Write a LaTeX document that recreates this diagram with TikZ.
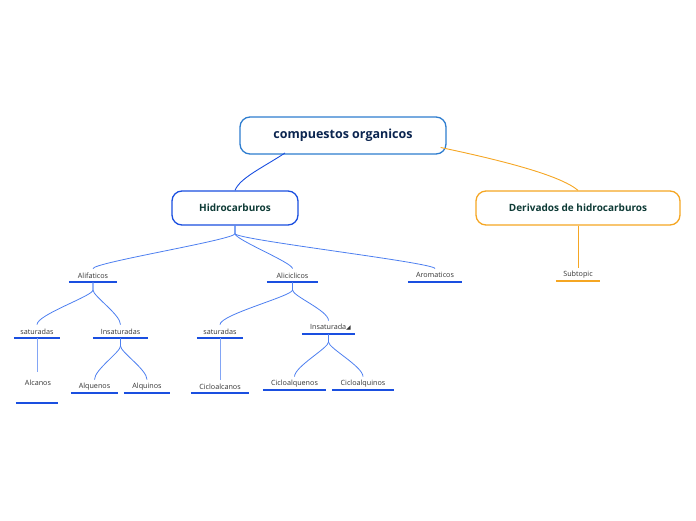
\documentclass[tikz,border=0pt]{standalone}
\usepackage{fontspec}
\setmainfont{Open Sans}
\newfontfamily\symf{DejaVu Sans}
\definecolor{bl}{HTML}{1A4FE0}
\definecolor{lbl}{HTML}{4D7FF0}
\definecolor{cb}{HTML}{2E7DCF}
\definecolor{og}{HTML}{F5A623}
\definecolor{nv}{HTML}{0B2550}
\definecolor{dg}{HTML}{0E3B36}
\begin{document}
\begin{tikzpicture}[x=1pt,y=-1pt,
 main/.style={draw=#1,line width=1.3pt,rounded corners=10pt,fill=white,font=\bfseries\fontsize{10}{12}\selectfont,text=dg},
 t/.style={font=\fontsize{7.2}{9}\selectfont,text=black!80,inner sep=0pt,minimum width=#1,minimum height=13pt,anchor=south},
 ul/.style={bl,line width=2pt},
 ln/.style={lbl,line width=0.8pt},
 br/.style={lbl,line width=0.8pt}]
\useasboundingbox (0,0) rectangle (696,520);
\node[main=cb,minimum width=206pt,minimum height=37pt,text=nv,font=\bfseries\fontsize{12.5}{14}\selectfont] (c) at (343,135.5) {compuestos organicos};
\node[main=bl,minimum width=126pt,minimum height=34pt] (h) at (235,208) {Hidrocarburos};
\node[main=og,minimum width=204pt,minimum height=34pt] (d) at (578,208) {Derivados de hidrocarburos};
\draw[bl,line width=0.9pt] (c.south)++(-60,0) coordinate(c1);
\draw[bl,line width=0.9pt] (285,153) .. controls (262,168) and (240,178) .. (h.north);
\draw[og,line width=0.9pt] (c.east)++(-6,12) .. controls (500,160) and (560,175) .. (d.north);
% topics
\newcommand\tp[5]{\node[t=#4] (#1) at (#2,#3) {#5}; \draw[ul] (#1.south west)--(#1.south east);}
\tp{ali}{93}{282}{48pt}{Alifaticos}
\tp{alc}{292.5}{282}{51pt}{Aliciclicos}
\tp{aro}{435}{282}{54pt}{Aromaticos}
\node[t=44pt] (sub) at (578,281) {Subtopic}; \draw[og,line width=2pt] (sub.south west)--(sub.south east);
\tp{s1}{37}{338}{46pt}{saturadas}
\tp{i1}{120.5}{338}{55pt}{Insaturadas}
\tp{s2}{220}{338}{46pt}{saturadas}
\node[t=53pt] (i2) at (328.5,334) {\hspace*{4pt}Insaturada{\symf\fontsize{6}{6}\selectfont ◢}}; \draw[ul] (i2.south west)--(i2.south east);
\node[t=42pt,minimum height=31pt,text depth=0pt] (a1) at (37,403) {}; \node[font=\fontsize{7.2}{9}\selectfont,text=black!80] at (38,383) {Alcanos}; \draw[ul] (a1.south west)--(a1.south east);
\tp{a2}{94.5}{393}{47pt}{Alquenos}
\tp{a3}{147}{393}{46pt}{Alquinos}
\tp{a4}{220}{393}{58pt}{Cicloalcanos}
\tp{a5}{294.5}{390}{63pt}{Cicloalquenos}
\tp{a6}{363}{390}{62pt}{Cicloalquinos}
% branches
\newcommand\brn[2]{\draw[br] (#1.south) -- ++(0,8) .. controls +(0,6) and +(0,-10) .. (#2.north);}
\draw[br] (h.south) -- ++(0,8) .. controls +(0,6) and +(0,-6) .. (ali.north);
\draw[br] (h.south) -- ++(0,8) .. controls +(0,6) and +(0,-6) .. (alc.north);
\draw[br] (h.south) -- ++(0,8) .. controls +(0,6) and +(0,-6) .. (aro.north);
\draw[og,line width=0.8pt] (d.south) -- (sub.north);
\brn{ali}{s1}\brn{ali}{i1}
\brn{alc}{s2}\brn{alc}{i2}
\brn{i1}{a2}\brn{i1}{a3}
\brn{i2}{a5}\brn{i2}{a6}
\draw[lbl!70,line width=0.8pt] (s1.south) -- (a1.north);
\draw[lbl!70,line width=0.8pt] (s2.south) -- (a4.north);
\end{tikzpicture}
\end{document}
